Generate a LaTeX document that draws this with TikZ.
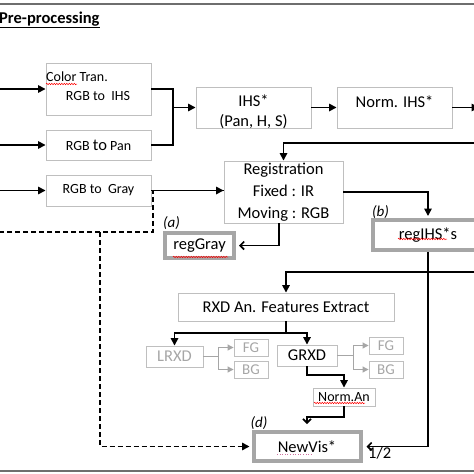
\documentclass[tikz,border=0pt]{standalone}
\usepackage{fontspec}
\setmainfont{Carlito}
\usetikzlibrary{arrows.meta,decorations.pathmorphing}
\definecolor{boxgray}{HTML}{BFBFBF}
\definecolor{thickgray}{HTML}{A6A6A6}
\definecolor{fadegray}{HTML}{A6A6A6}
\definecolor{rulegray}{HTML}{6E6E6E}
\definecolor{squigpink}{HTML}{D070A0}
\newcommand\bigf{\fontsize{16.5}{22}\selectfont}
\newcommand\smf{\fontsize{14}{17}\selectfont}
\newcommand\fgf{\fontsize{15}{17}\selectfont}
\newcommand\itf{\fontsize{15}{17}\selectfont\itshape}
\newcommand\ttlf{\fontsize{16.5}{20}\selectfont\bfseries}

\begin{document}
\begin{tikzpicture}[x=1pt,y=-1pt,
  box/.style={draw=boxgray,line width=0.9pt,inner sep=0pt,align=center},
  resbox/.style={draw=thickgray,line width=4pt,inner sep=0pt},
  fadebox/.style={draw=boxgray,line width=0.9pt,inner sep=0pt,text=fadegray,font=\fgf,minimum width=34pt,minimum height=17pt},
  txt/.style={inner sep=0pt},
  arr/.style={line width=1.6pt,-{Triangle[length=7.5pt,width=7.5pt]}},
  oarr/.style={line width=1.6pt,-{Straight Barb[length=4pt,width=8pt]}},
  garr/.style={draw=fadegray,line width=1pt,-{Triangle[length=6pt,width=6pt,fill=fadegray]}},
  dashln/.style={line width=1.6pt,dash pattern=on 5pt off 3pt},
  squig/.style={red,line width=0.5pt,decorate,decoration={snake,amplitude=0.7pt,segment length=2.5pt}}]
\useasboundingbox (0,0) rectangle (474,474);
\clip (0,0) rectangle (474,474);

% frame lines and title
\draw[rulegray,line width=1.7pt] (0,4) -- (474,4);
\draw[rulegray,line width=1.7pt] (0,471) -- (474,471);
\node[txt,anchor=west,font=\ttlf] (title) at (-1,20) {\underline{Pre-processing}};

% input conversions
\node[box,minimum width=105pt,minimum height=52pt] (color) at (98.5,89) {};
\node[txt,anchor=west,font=\smf] (colort) at (46,77) {Color Tran.};
\node[txt,font=\smf] (colorb) at (98,96) {RGB to~~IHS};
\node[box,minimum width=105pt,minimum height=30pt,font=\smf] (pan) at (98.5,145) {RGB {\bigf to} Pan};
\node[box,minimum width=105pt,minimum height=31pt,font=\smf] (gray) at (98.5,190.5) {RGB to~~Gray};

\node[box,minimum width=115pt,minimum height=41pt] (ihs) at (253.5,107.5) {};
\node[txt,font=\bigf,align=center] (ihst) at (253.5,112) {IHS*\\[-2pt](Pan, H, S)};
\node[box,minimum width=115pt,minimum height=41pt] (norm) at (394.5,107.5) {};
\node[txt,font=\bigf] (normt) at (394.5,102) {Norm. IHS*};

\node[box,minimum width=119pt,minimum height=62pt,font=\bigf] (reg) at (283.5,192) {Registration\\Fixed : IR\\Moving : RGB};

% registered results
\node[resbox,minimum width=69pt,minimum height=25pt,font=\bigf] (reggray) at (199.5,245.5) {regGray};
\node[resbox,minimum width=110pt,minimum height=30pt,font=\bigf] (regihs) at (428,235) {regIHS*s};
\node[txt,font=\itf] (la) at (171.5,223) {(a)};
\node[txt,font=\itf] (lb) at (380.5,212) {(b)};

% anomaly features
\node[box,minimum width=216pt,minimum height=28pt,font=\bigf] (rxd) at (286,307) {RXD An. Features Extract};
\node[box,draw=boxgray,text=fadegray,minimum width=57pt,minimum height=21pt,font=\bigf] (lrxd) at (174.5,356.5) {LRXD};
\node[fadebox] (fga) at (251,347.5) {FG};
\node[fadebox] (bga) at (251,369.5) {BG};
\node[box,minimum width=60pt,minimum height=21pt,font=\bigf] (grxd) at (307,355.5) {GRXD};
\node[fadebox] (fgb) at (386,345.5) {FG};
\node[fadebox] (bgb) at (386,369.5) {BG};
\node[box,minimum width=62pt,minimum height=18pt,font=\smf] (norman) at (344,397) {Norm.An};

\node[resbox,minimum width=107pt,minimum height=29pt,font=\bigf] (newvis) at (307,446.5) {NewVis*};
\node[txt,font=\itf] (ld) at (259,423.5) {(d)};
\node[txt,anchor=north west,font=\bigf] (half) at (368,447) {1/2};

% spell-check marks
\draw[squig] (46,84) -- (77,84);
\draw[squig] (173,257) -- (228,257);
\draw[squig] (398,239) -- (447,239);
\draw[squig] (314,403) -- (365,403);
\draw[squigpink,line width=0.6pt,dotted] (277,454) -- (313,454);

% connectors
\coordinate (in1) at (0,89);
\coordinate (in2) at (0,145);
\coordinate (in3) at (0,190.5);
\draw[arr] (in1) -- (color.west);
\draw[arr] (in2) -- (pan.west);
\draw[arr] (in3) -- (gray.west);
\coordinate (j1) at (173,107.5);
\draw[line width=1.6pt] (color.east) -| (j1) |- (pan.east);
\draw[arr] (j1) -- (ihs.west);
\draw[arr] (ihs.east) -- (norm.west);
\coordinate (out1) at (479,107.5);
\draw[arr] (norm.east) -- (out1);
\coordinate (in4) at (480,143);
\draw[arr] (in4) -| (reg.north);

\draw[line width=1pt] (gray.east) -- (gray.east -| reg.west);
\draw[dashln,-{Triangle[length=7.5pt,width=7.5pt]}] (gray.east) -- (gray.east -| reg.west);
\coordinate (d1) at (153,232);
\coordinate (inL) at (-5,232);
\coordinate (d2) at (100,232);
\draw[dashln] (gray.east) -| (d1) -- (inL);
\draw[dashln,-{Triangle[length=7.5pt,width=7.5pt]},shorten >=2pt] (d2) |- (newvis.west);

\draw[arr,shorten >=2pt] (reg.east) -| (regihs.north);
\draw[oarr,shorten >=3pt] ([xshift=-4.5pt]reg.south) |- (reggray.east);
\draw[oarr,shorten >=4pt] (regihs.south) |- (newvis.east);

\coordinate (in5) at (480,272);
\draw[arr] (in5) -| (rxd.north);
\coordinate (j2) at (286,333);
\draw[line width=1.6pt] (rxd.south) -- (j2);
\draw[arr] (j2) -| (lrxd.north);
\draw[arr] (j2) -| (grxd.north);
\coordinate (j3) at (218,356.5);
\draw[garr] (lrxd.east) -- (j3) |- (fga.west);
\draw[garr] (j3) |- (bga.west);
\coordinate (j4) at (353,355.5);
\draw[garr] (grxd.east) -- (j4) |- (fgb.west);
\draw[garr] (j4) |- (bgb.west);
\coordinate (j5) at (307,375);
\draw[arr] (grxd.south) -- (j5) -| (norman.north);
\coordinate (j6) at (307,417);
\draw[oarr,shorten >=6pt] (norman.south) |- (j6) -- (newvis.north);
\end{tikzpicture}
\end{document}
